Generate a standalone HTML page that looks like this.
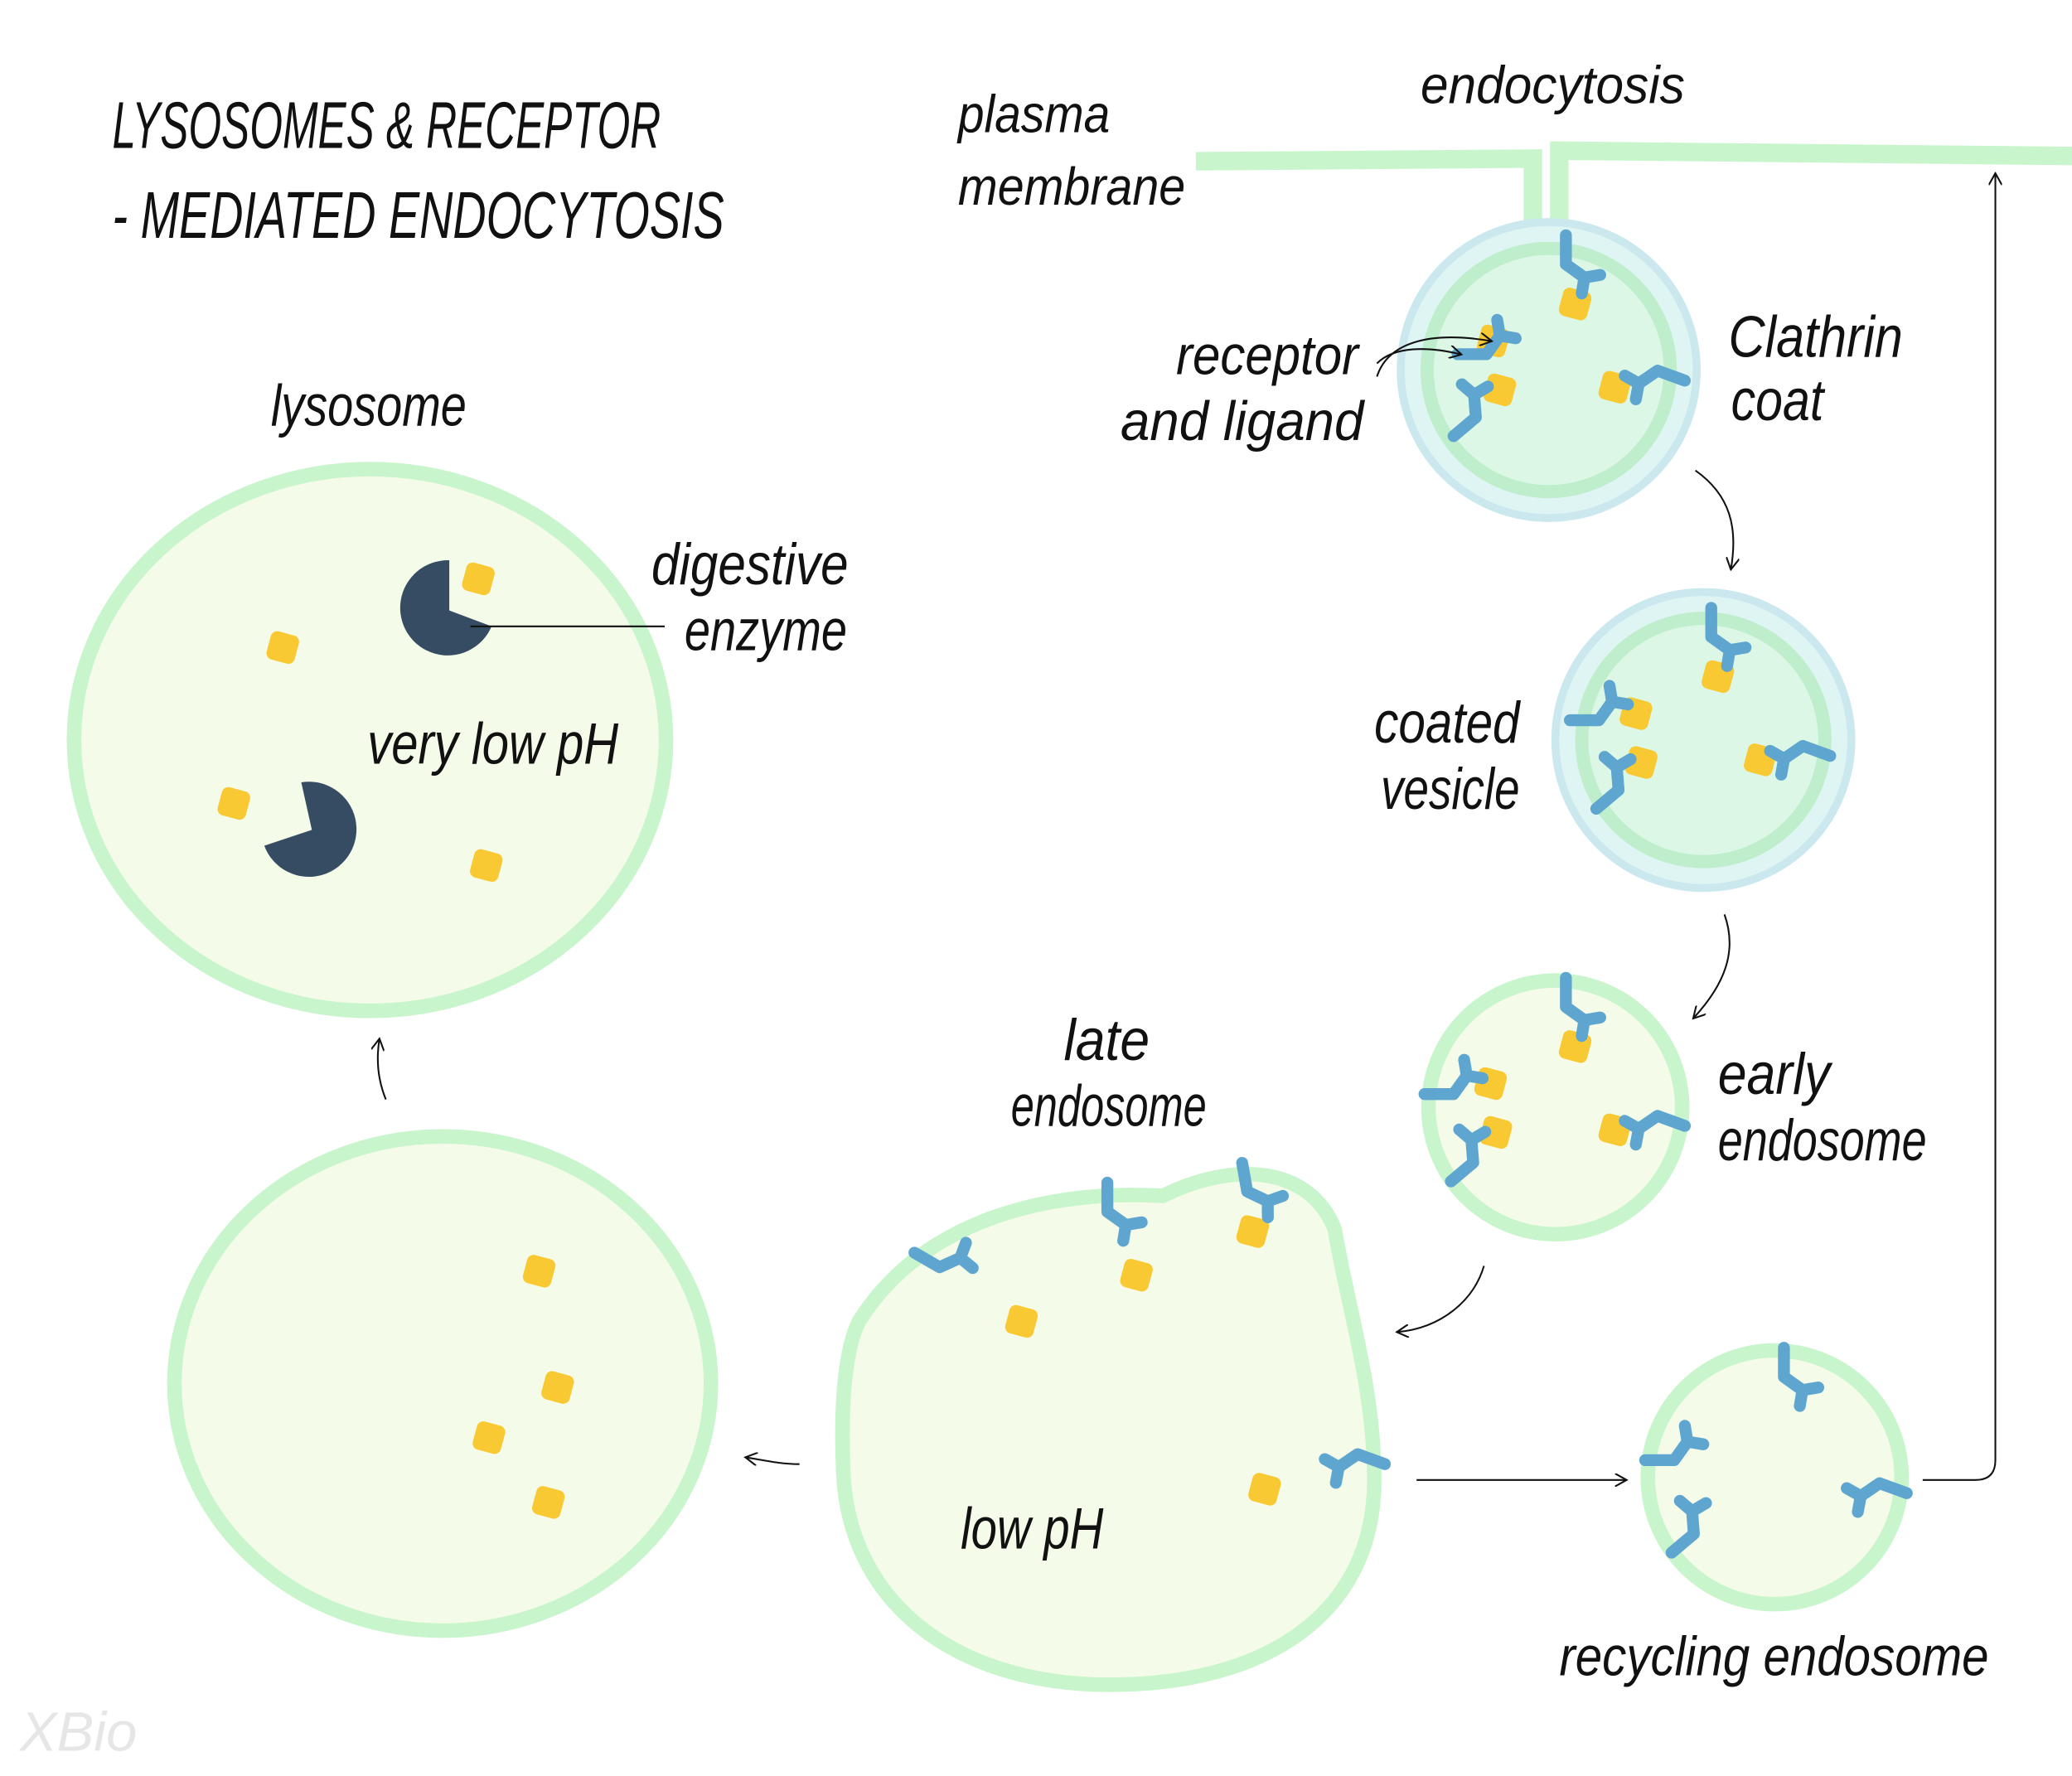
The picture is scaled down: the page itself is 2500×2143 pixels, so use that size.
<!DOCTYPE html>
<html><head><meta charset="utf-8"><style>
html,body{margin:0;padding:0;background:#fff}
svg{display:block}
text{font-family:"Liberation Sans Narrow","Liberation Sans",sans-serif;fill:#111;font-style:italic}
</style></head><body>
<svg width="2500" height="2143" viewBox="0 0 1568 1344" xmlns="http://www.w3.org/2000/svg">
<defs>
<marker id="ah" markerWidth="10" markerHeight="10" refX="8" refY="5" orient="auto" markerUnits="userSpaceOnUse">
<path d="M0,0 L9,5 L0,10" fill="none" stroke="#111" stroke-width="1.3"/></marker>
<g id="lig"><rect x="-11" y="-11" width="22" height="22" rx="5" fill="#f9c933" transform="rotate(15)"/></g>
<g id="rec"><path d="M0,0 L0,22 L14,32 L26,30 M14,32 L12,44" fill="none" stroke="#5ea6cf" stroke-width="9" stroke-linecap="round" stroke-linejoin="round"/></g>
</defs>
<rect width="1568" height="1344" fill="#fff"/>

<!-- title -->
<text x="85" y="112" font-size="50" font-style="normal" textLength="415" lengthAdjust="spacingAndGlyphs">LYSOSOMES &amp; RECEPTOR</text>
<text x="85" y="180" font-size="50" font-style="normal" textLength="463" lengthAdjust="spacingAndGlyphs">- MEDIATED ENDOCYTOSIS</text>

<!-- plasma membrane -->
<path d="M905,122 L1160,120 L1160,178 M1180,178 L1180,114 L1568,118" fill="none" stroke="#c8f5cc" stroke-width="14"/>
<text x="725" y="100" font-size="40" textLength="115" lengthAdjust="spacingAndGlyphs">plasma</text>
<text x="725" y="155" font-size="40" textLength="172" lengthAdjust="spacingAndGlyphs">membrane</text>
<text x="1075" y="78" font-size="40" textLength="200" lengthAdjust="spacingAndGlyphs">endocytosis</text>

<!-- clathrin vesicle -->
<circle cx="1172" cy="280" r="112" fill="#dff5f4" stroke="#cbe8ef" stroke-width="6"/>
<circle cx="1172" cy="280" r="92" fill="#dcf7e6" stroke="#bfeecc" stroke-width="10"/>
<use href="#lig" x="1192" y="230"/><use href="#lig" x="1130" y="258"/><use href="#lig" x="1135" y="295"/><use href="#lig" x="1222" y="293"/>
<use href="#rec" transform="translate(1185,178)"/>
<use href="#rec" transform="translate(1103,268) rotate(-90)"/>
<use href="#rec" transform="translate(1100,330) rotate(-130)"/>
<use href="#rec" transform="translate(1275,288) rotate(110)"/>
<text x="890" y="283" font-size="42" textLength="138" lengthAdjust="spacingAndGlyphs">receptor</text>
<text x="848" y="333" font-size="42" textLength="184" lengthAdjust="spacingAndGlyphs">and ligand</text>
<path d="M1042,285 C1050,260 1080,250 1128,258" fill="none" stroke="#111" stroke-width="1.3" marker-end="url(#ah)"/>
<path d="M1042,275 C1055,262 1080,262 1105,268" fill="none" stroke="#111" stroke-width="1.3" marker-end="url(#ah)"/>
<text x="1308" y="270" font-size="44" textLength="132" lengthAdjust="spacingAndGlyphs">Clathrin</text>
<text x="1310" y="318" font-size="44" textLength="70" lengthAdjust="spacingAndGlyphs">coat</text>
<path d="M1283,356 C1310,375 1315,400 1310,430" fill="none" stroke="#111" stroke-width="1.3" marker-end="url(#ah)"/>

<!-- coated vesicle -->
<circle cx="1289" cy="560" r="112" fill="#dff5f4" stroke="#cbe8ef" stroke-width="6"/>
<circle cx="1289" cy="560" r="92" fill="#dcf7e6" stroke="#bfeecc" stroke-width="10"/>
<use href="#lig" x="1300" y="512"/><use href="#lig" x="1238" y="540"/><use href="#lig" x="1242" y="577"/><use href="#lig" x="1332" y="575"/>
<use href="#rec" transform="translate(1295,460)"/>
<use href="#rec" transform="translate(1188,545) rotate(-90)"/>
<use href="#rec" transform="translate(1208,612) rotate(-130)"/>
<use href="#rec" transform="translate(1385,572) rotate(110)"/>
<text x="1040" y="562" font-size="44" textLength="110" lengthAdjust="spacingAndGlyphs">coated</text>
<text x="1045" y="612" font-size="44" textLength="105" lengthAdjust="spacingAndGlyphs">vesicle</text>
<path d="M1305,692 C1315,720 1305,745 1282,770" fill="none" stroke="#111" stroke-width="1.3" marker-end="url(#ah)"/>

<!-- early endosome -->
<circle cx="1177" cy="838" r="96" fill="#f4fbe8" stroke="#c8f5cc" stroke-width="11"/>
<use href="#lig" x="1192" y="792"/><use href="#lig" x="1128" y="820"/><use href="#lig" x="1132" y="857"/><use href="#lig" x="1222" y="855"/>
<use href="#rec" transform="translate(1185,740)"/>
<use href="#rec" transform="translate(1078,828) rotate(-90)"/>
<use href="#rec" transform="translate(1098,894) rotate(-130)"/>
<use href="#rec" transform="translate(1275,852) rotate(110)"/>
<text x="1300" y="828" font-size="44" textLength="85" lengthAdjust="spacingAndGlyphs">early</text>
<text x="1300" y="878" font-size="44" textLength="158" lengthAdjust="spacingAndGlyphs">endosome</text>
<path d="M1123,958 C1115,985 1090,1005 1058,1008" fill="none" stroke="#111" stroke-width="1.3" marker-end="url(#ah)"/>

<!-- recycling endosome -->
<circle cx="1343" cy="1118" r="96" fill="#f4fbe8" stroke="#c8f5cc" stroke-width="11"/>
<use href="#rec" transform="translate(1350,1020)"/>
<use href="#rec" transform="translate(1245,1105) rotate(-90)"/>
<use href="#rec" transform="translate(1265,1175) rotate(-130)"/>
<use href="#rec" transform="translate(1443,1130) rotate(110)"/>
<text x="1180" y="1268" font-size="42" textLength="325" lengthAdjust="spacingAndGlyphs">recycling endosome</text>
<path d="M1455,1120 L1495,1120 Q1510,1120 1510,1105 L1510,132" fill="none" stroke="#111" stroke-width="1.3" marker-end="url(#ah)"/>
<path d="M1072,1120 L1230,1120" fill="none" stroke="#111" stroke-width="1.3" marker-end="url(#ah)"/>

<!-- late endosome -->
<path d="M650,1000 C700,920 800,900 880,905 C930,880 990,880 1010,930 C1020,990 1040,1050 1040,1120 C1040,1220 960,1275 840,1275 C720,1275 640,1210 638,1110 C636,1060 640,1020 650,1000 Z" fill="#f4fbe8" stroke="#c8f5cc" stroke-width="11"/>
<use href="#lig" x="948" y="932"/><use href="#lig" x="860" y="965"/><use href="#lig" x="773" y="1000"/><use href="#lig" x="957" y="1127"/>
<use href="#rec" transform="translate(940,880) rotate(-10)"/>
<use href="#rec" transform="translate(838,895)"/>
<use href="#rec" transform="translate(692,948) rotate(-60)"/>
<use href="#rec" transform="translate(1048,1108) rotate(110)"/>
<text x="805" y="802" font-size="44" textLength="65" lengthAdjust="spacingAndGlyphs">late</text>
<text x="765" y="852" font-size="44" textLength="148" lengthAdjust="spacingAndGlyphs">endosome</text>
<text x="727" y="1172" font-size="44" textLength="108" lengthAdjust="spacingAndGlyphs">low pH</text>
<path d="M605,1108 C590,1108 578,1105 565,1103" fill="none" stroke="#111" stroke-width="1.3" marker-end="url(#ah)"/>

<!-- bottom-left cell -->
<ellipse cx="335" cy="1047" rx="203" ry="187" fill="#f4fbe8" stroke="#c8f5cc" stroke-width="11"/>
<use href="#lig" x="408" y="962"/><use href="#lig" x="422" y="1050"/><use href="#lig" x="370" y="1088"/><use href="#lig" x="415" y="1137"/>
<path d="M292,832 C285,815 285,800 287,787" fill="none" stroke="#111" stroke-width="1.3" marker-end="url(#ah)"/>

<!-- lysosome -->
<ellipse cx="280" cy="560" rx="224" ry="205" fill="#f4fbe8" stroke="#c8f5cc" stroke-width="11"/>
<text x="205" y="322" font-size="44" textLength="148" lengthAdjust="spacingAndGlyphs">lysosome</text>
<path d="M372,474 A36,36 0 1 1 340,424 L340,462 Z" fill="#364c63"/>
<path d="M200,640 A36,36 0 1 0 228,592 L236,628 Z" fill="#364c63"/>
<use href="#lig" x="362" y="438"/><use href="#lig" x="214" y="490"/><use href="#lig" x="177" y="608"/><use href="#lig" x="368" y="655"/>
<line x1="356" y1="474" x2="503" y2="474" stroke="#111" stroke-width="1.3"/>
<text x="493" y="442" font-size="44" textLength="149" lengthAdjust="spacingAndGlyphs">digestive</text>
<text x="518" y="492" font-size="44" textLength="123" lengthAdjust="spacingAndGlyphs">enzyme</text>
<text x="278" y="578" font-size="44" textLength="190" lengthAdjust="spacingAndGlyphs">very low pH</text>

<text x="15" y="1325" font-size="42" font-style="normal" style="fill:#e6e6e6">XBio</text>
</svg>
</body></html>
